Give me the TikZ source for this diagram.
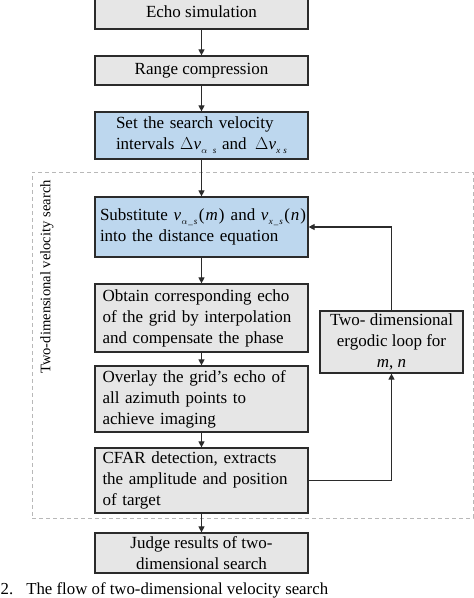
\documentclass[tikz,border=0pt]{standalone}
\usepackage{fontspec}
\setmainfont{Liberation Serif}
\usetikzlibrary{arrows.meta,positioning}
\definecolor{boxgray}{HTML}{E6E6E6}
\definecolor{boxblue}{HTML}{BDD7EE}
\definecolor{edge}{HTML}{2B2B2B}
\definecolor{dashgray}{HTML}{B8B8B8}
\newcommand{\subsm}[1]{\raisebox{-4pt}{\fontsize{9}{9}\selectfont #1}}
\newcommand{\vel}[1]{\textit{v}\kern0.3pt\subsm{#1}}
\tikzset{
  box/.style={draw=edge, line width=1.2pt, fill=boxgray, minimum width=213pt, inner sep=0pt,
    font=\fontsize{17}{21}\selectfont},
  bluebox/.style={box, fill=boxblue},
  lefttext/.style={text width=198pt, align=left},
  arr/.style={draw=edge, line width=1.1pt, -{Triangle[length=6pt,width=6pt]}},
  link/.style={draw=edge, line width=1.1pt}
}
\begin{document}
\begin{tikzpicture}[x=1pt,y=-1pt]
\useasboundingbox (0,0) rectangle (474,598);
\begin{scope}
\clip (0,0) rectangle (474,598);
% dashed frame
\node[draw=dashgray, dashed, dash pattern=on 4pt off 3pt, line width=0.9pt,
  minimum width=441pt, minimum height=346pt, inner sep=0pt] (frame) at (252.5,345) {};
\node[rotate=90, font=\fontsize{14.6}{17}\selectfont, inner sep=0pt] (flabel) at (47,277) {Two-dimensional velocity search};

\node[box, minimum height=34pt] (echo) at (201.5,12) {Echo simulation};
\node[box, minimum height=29pt] (range) at (201.5,70.5) {Range compression};
\node[bluebox, minimum height=47pt, text width=171pt, align=left] (setv) at (201.5,135.5)
  {\mbox{Set the search velocity}\\\mbox{intervals $\Delta$\vel{$\alpha$ \textit{s}} and\, $\Delta$\vel{\textit{x\,\,s}}}};
\node[bluebox, minimum height=60pt, text width=203pt, align=left] (subst) at (201.5,227)
  {\mbox{Substitute \vel{$\alpha$\kern1pt\_\kern1pt\textit{s}}\kern1.5pt(\kern1pt\textit{m}\kern1pt)\kern0.5pt\ and \vel{\textit{x}\kern1pt\_\kern1pt\textit{s}}\kern1.5pt(\kern1pt\textit{n}\kern1pt)}\\into the distance equation};
\node[box, minimum height=68pt, lefttext] (obtain) at (201.5,318)
  {Obtain corresponding echo\\of the grid by interpolation\\and compensate the phase};
\node[box, minimum height=66pt, lefttext] (overlay) at (201.5,399)
  {Overlay the grid's echo of\\all azimuth points to\\achieve imaging};
\node[box, minimum height=65pt, lefttext] (cfar) at (201.5,480.5)
  {CFAR detection, extracts\\the amplitude and position\\of target};
\node[box, minimum height=40pt, align=center] (judge) at (201.5,553)
  {Judge results of two-\\dimensional search};
\node[box, minimum width=143pt, minimum height=62pt, align=center] (loop) at (391.5,342)
  {Two- dimensional\\ergodic loop for\\\textit{m}, \textit{n}};

\draw[arr] (echo) -- (range);
\draw[arr] (range) -- (setv);
\draw[arr] (setv) -- (subst);
\draw[arr] (subst) -- (obtain);
\draw[arr] (obtain) -- (overlay);
\draw[arr] (overlay) -- (cfar);
\draw[arr] (cfar) -- (judge);
\draw[arr] (cfar.east) -| (loop.south);
\draw[arr] (loop.north) |- (subst.east);

\node[anchor=base west, inner sep=0pt, font=\fontsize{16.8}{20}\selectfont] (caption) at (0.5,594)
  {2.\hspace{13pt}The flow of two-dimensional velocity search};
\end{scope}
\end{tikzpicture}
\end{document}
